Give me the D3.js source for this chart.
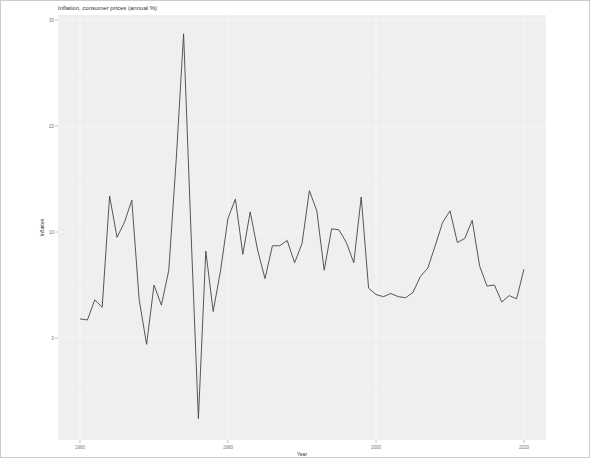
<html>
<head><meta charset="utf-8"></head>
<style>
  body { margin: 0; background: #fff; }
  text { font-family: "Liberation Sans", sans-serif; }
</style>
<body>
<div id="chart"></div>
<script src="https://cdnjs.cloudflare.com/ajax/libs/d3/7.8.5/d3.min.js"></script>
<script>
var years = d3.range(1960, 2021);
var inflation = [1.8, 1.7, 3.6, 2.9, 13.4, 9.5, 10.9, 13.0, 3.6, -0.6,
  5.0, 3.1, 6.4, 16.8, 28.7, 10.0, -7.6, 8.2, 2.5, 6.4,
  11.3, 13.1, 7.9, 11.9, 8.3, 5.6, 8.7, 8.7, 9.2, 7.1,
  8.9, 13.9, 12.0, 6.4, 10.3, 10.2, 9.0, 7.1, 13.3, 4.7,
  4.1, 3.9, 4.2, 3.9, 3.8, 4.3, 5.8, 6.6, 8.7, 10.9,
  12.0, 9.0, 9.4, 11.1, 6.8, 4.9, 5.0, 3.4, 4.0, 3.7, 6.5];
var xTicks = [1960, 1980, 2000, 2020];
var yTicks = [0, 10, 20, 30];

var W = 590, H = 458;
var svg = d3.select('#chart').append('svg').attr('width', W).attr('height', H);
svg.append('rect').attr('x', 0.5).attr('y', 0.5).attr('width', W - 1).attr('height', H - 1)
  .attr('fill', '#fff').attr('stroke', '#ccc');

var x = d3.scaleLinear().domain([1960, 2020]).range([80, 524]);
var y = d3.scaleLinear().domain([0, 10]).range([338, 232]);
var pL = 58, pR = 546, pT = 15, pB = 440;

svg.append('rect').attr('x', pL).attr('y', pT).attr('width', pR - pL).attr('height', pB - pT).attr('fill', '#efefef');

// minor grid
[1970, 1990, 2010].forEach(function(v) {
  svg.append('line').attr('x1', x(v)).attr('x2', x(v)).attr('y1', pT).attr('y2', pB).attr('stroke', '#f6f6f6').attr('stroke-width', 0.5);
});
[-5, 5, 15, 25].forEach(function(v) {
  svg.append('line').attr('x1', pL).attr('x2', pR).attr('y1', y(v)).attr('y2', y(v)).attr('stroke', '#f6f6f6').attr('stroke-width', 0.5);
});
xTicks.forEach(function(v) {
  svg.append('line').attr('x1', x(v)).attr('x2', x(v)).attr('y1', pT).attr('y2', pB).attr('stroke', '#fafafa').attr('stroke-width', 0.8);
  svg.append('line').attr('x1', x(v)).attr('x2', x(v)).attr('y1', pB).attr('y2', pB + 3).attr('stroke', '#999').attr('stroke-width', 0.6);
  svg.append('text').attr('x', x(v)).attr('y', pB + 9).attr('text-anchor', 'middle').attr('font-size', 4.5).attr('fill', '#777').text(v);
});
yTicks.forEach(function(v) {
  svg.append('line').attr('x1', pL).attr('x2', pR).attr('y1', y(v)).attr('y2', y(v)).attr('stroke', '#fafafa').attr('stroke-width', 0.8);
  svg.append('line').attr('x1', pL - 3).attr('x2', pL).attr('y1', y(v)).attr('y2', y(v)).attr('stroke', '#999').attr('stroke-width', 0.6);
  svg.append('text').attr('x', pL - 4).attr('y', y(v) + 1.5).attr('text-anchor', 'end').attr('font-size', 4.5).attr('fill', '#777').text(v);
});

var line = d3.line().x(function(d, i) { return x(years[i]); }).y(function(d) { return y(d); });
svg.append('path').datum(inflation).attr('d', line).attr('fill', 'none').attr('stroke', '#444').attr('stroke-width', 0.9);

svg.append('text').attr('x', pL).attr('y', 10).attr('font-size', 6).attr('fill', '#333').text('Inflation, consumer prices (annual %)');
svg.append('text').attr('x', (pL + pR) / 2).attr('y', pB + 16).attr('text-anchor', 'middle').attr('font-size', 5).attr('fill', '#333').text('Year');
svg.append('text').attr('transform', 'translate(' + (pL - 14) + ',' + ((pT + pB) / 2) + ') rotate(-90)')
  .attr('text-anchor', 'middle').attr('font-size', 5).attr('fill', '#333').text('Inflation');
</script>
</body>
</html>
